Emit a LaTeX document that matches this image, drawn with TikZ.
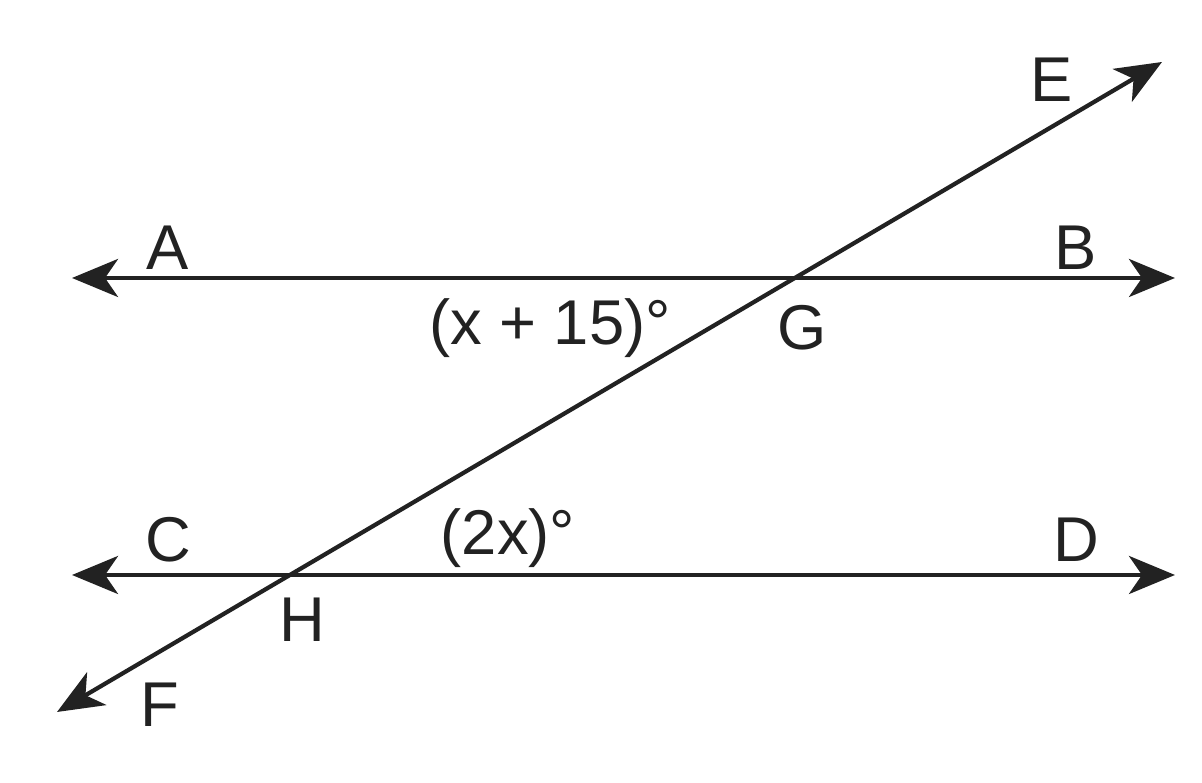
\documentclass[tikz,border=0pt]{standalone}
\usepackage{fontspec}
\setmainfont{Liberation Sans}
\usetikzlibrary{arrows.meta}
\definecolor{ink}{HTML}{222222}
\tikzset{
  line/.style={draw=ink, line width=1.2pt, {Stealth[length=4.6mm,width=3.8mm,inset=1.3mm]}-{Stealth[length=4.6mm,width=3.8mm,inset=1.3mm]}},
  lbl/.style={text=ink, inner sep=0pt, font=\fontsize{18}{20}\selectfont}
}
\begin{document}
\begin{tikzpicture}[x=0.01cm,y=-0.01cm]
\useasboundingbox (0,0) rectangle (1202,783);

% ends of the three lines
\coordinate (Aend) at (72,278);
\coordinate (Bend) at (1175,278);
\coordinate (Cend) at (72,575);
\coordinate (Dend) at (1175,575);
\coordinate (Eend) at (1162,62);
\coordinate (Fend) at (57,712);

\draw[line] (Aend) -- (Bend);
\draw[line] (Cend) -- (Dend);
\draw[line] (Fend) -- (Eend);

% point labels
\node[lbl] (labA) at (168,248) {A};
\node[lbl] (labB) at (1076,248) {B};
\node[lbl] (labC) at (168,540) {C};
\node[lbl] (labD) at (1076,540) {D};
\node[lbl] (labE) at (1052,80) {E};
\node[lbl] (labF) at (160,705) {F};
\node[lbl] (labG) at (802,328) {G};
\node[lbl] (labH) at (302,620) {H};

% angle labels
\node[lbl] (angG) at (550,328) {(x + 15)°};
\node[lbl] (angH) at (508,538) {(2x)°};
\end{tikzpicture}
\end{document}
